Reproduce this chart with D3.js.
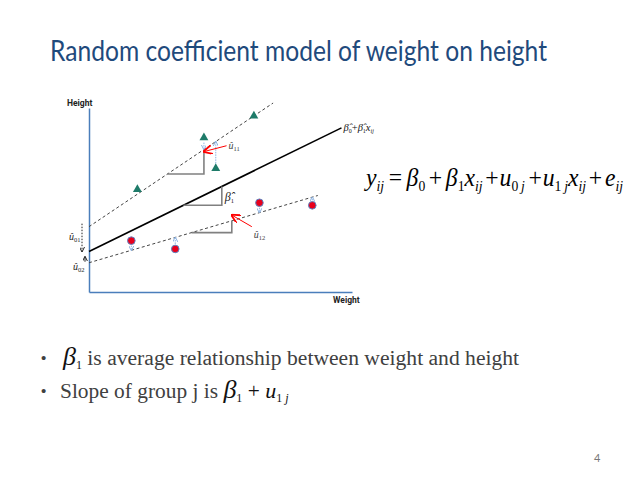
<!DOCTYPE html>
<html>
<head>
<meta charset="utf-8">
<script src="https://cdn.jsdelivr.net/npm/d3@7"></script>
<style>
  body { margin: 0; background: #fff; }
  svg { display: block; }
</style>
</head>
<body>
<svg></svg>
<script>
const titleText = 'Random coefficient model of weight on height';
const yLabel = 'Height';
const xLabel = 'Weight';

// average line and the two group deviations
const beta0 = 22;
const beta1 = 0.7;
const u0 = [13.5, -6.1];
const u1 = [0.26, -0.28];
const groupLineEnd = [70, 87];
const avgLineEnd = 96;

// observations
const group1Weight = [18.4, 43.7, 48.2, 62.7];
const group1Height = [55.8, 83.9, 67.2, 95.7];
const group2Weight = [16.1, 32.8, 64.8, 84.9];
const group2Height = [27.9, 23.4, 48.5, 47.1];

// slope "steps": group 1, average, group 2
const stepLine = [0, 'avg', 1];
const stepStart = [29.8, 35.9, 39];
const stepEnd = [43.7, 50.5, 54.3];

// red callouts for u11, u12 (weight, height)
const calloutFrom = [[52.3, 79.5], [61.9, 35.5]];
const calloutTo = [[43.7, 76.3], [54.3, 41.8]];
const calloutLabel = ['11', '12'];

const bullet1 = 'is average relationship between weight and height';
const bullet2 = 'Slope of group j is';
const pageNumber = '4';

let width = 638;
let height = 478;

let svg = d3.select('svg').attr('width', width).attr('height', height);

const x = d3.scaleLinear().domain([0, 100]).range([89, 352]);
const y = d3.scaleLinear().domain([0, 100]).range([292, 108]);

const lineAt = (g, w) => g === 'avg'
    ? beta0 + beta1 * w
    : beta0 + u0[g] + (beta1 + u1[g]) * w;

const serif = '"Liberation Serif", "Times New Roman", serif';

// write a run of text pieces: [string, italic, sub, size, colour, dx]
const mathText = (sel, parts, mainSize, subSize, shift) => {
    let down = 0;
    parts.forEach(p => {
        const sub = p[2];
        const target = sub ? shift : 0;
        const ts = sel.append('tspan')
            .attr('dy', target - down)
            .attr('font-size', p[3] || (sub ? subSize : mainSize))
            .attr('font-style', p[1] ? 'italic' : 'normal')
            .text(p[0]);
        if (p[4]) ts.attr('fill', p[4]);
        if (p[5]) ts.attr('dx', p[5]);
        down = target;
    });
    return sel;
};

// markers
const defs = svg.append('defs');
const marker = (id, color, size) => {
    defs.append('marker')
        .attr('id', id)
        .attr('viewBox', '0 -5 10 10')
        .attr('refX', 9).attr('refY', 0)
        .attr('markerWidth', size).attr('markerHeight', size)
        .attr('markerUnits', 'userSpaceOnUse')
        .attr('orient', 'auto')
        .append('path')
        .attr('d', 'M0,-5L10,0L0,5')
        .attr('fill', 'none')
        .attr('stroke', color)
        .attr('stroke-width', 2);
};
marker('blueHead', '#8db3e2', 5);
marker('redHead', '#ff0000', 9);
marker('blackHead', '#222', 5);

// title
svg.append('text')
    .attr('x', 50).attr('y', 61)
    .attr('font-family', 'Lato, "Open Sans", sans-serif')
    .attr('font-size', 28)
    .attr('fill', '#1f4a7c')
    .attr('textLength', 497)
    .attr('lengthAdjust', 'spacingAndGlyphs')
    .text(titleText);

// axes
const xAxis = svg.append('g')
    .attr('transform', 'translate(0,' + y(0) + ')')
    .call(d3.axisBottom(x).tickValues([]).tickSizeOuter(0));
const yAxis = svg.append('g')
    .attr('transform', 'translate(' + x(0) + ',0)')
    .call(d3.axisLeft(y).tickValues([]).tickSizeOuter(0));
[xAxis, yAxis].forEach(a => a.select('.domain')
    .attr('stroke', '#4a7ebb').attr('stroke-width', 1.5));

svg.append('text')
    .attr('x', 67).attr('y', 106)
    .attr('font-family', 'Roboto, "Liberation Sans", sans-serif')
    .attr('font-weight', 'bold').attr('font-size', 8.5)
    .attr('fill', '#222')
    .text(yLabel);
svg.append('text')
    .attr('x', 333).attr('y', 303)
    .attr('font-family', 'Roboto, "Liberation Sans", sans-serif')
    .attr('font-weight', 'bold').attr('font-size', 8.5)
    .attr('fill', '#222')
    .text(xLabel);

// group lines (dashed)
[0, 1].forEach(g => {
    svg.append('line')
        .attr('x1', x(0)).attr('y1', y(lineAt(g, 0)))
        .attr('x2', x(groupLineEnd[g])).attr('y2', y(lineAt(g, groupLineEnd[g])))
        .attr('stroke', '#444')
        .attr('stroke-width', 1)
        .attr('stroke-dasharray', '3,2.5');
});

// average line
svg.append('line')
    .attr('x1', x(0)).attr('y1', y(lineAt('avg', 0)))
    .attr('x2', x(avgLineEnd)).attr('y2', y(lineAt('avg', avgLineEnd)))
    .attr('stroke', '#000')
    .attr('stroke-width', 1.6);

// slope steps
stepLine.forEach((g, i) => {
    const xa = x(stepStart[i]);
    const xb = x(stepEnd[i]);
    const ya = y(lineAt(g, stepStart[i]));
    const yb = y(lineAt(g, stepEnd[i]));
    svg.append('path')
        .attr('d', 'M' + xa + ',' + ya + 'H' + xb + 'V' + yb)
        .attr('fill', 'none')
        .attr('stroke', '#808080')
        .attr('stroke-width', 1.6);
});

// residual arrows
const residuals = [];
group1Weight.forEach((w, i) => residuals.push({ g: 0, w: w, h: group1Height[i] }));
group2Weight.forEach((w, i) => residuals.push({ g: 1, w: w, h: group2Height[i] }));

residuals.forEach(d => {
    const y0 = y(d.h);
    const y1 = y(lineAt(d.g, d.w));
    if (Math.abs(y1 - y0) < 7) return;
    const dir = y1 > y0 ? 1 : -1;
    svg.append('line')
        .attr('x1', x(d.w)).attr('y1', y0 + dir * 5)
        .attr('x2', x(d.w)).attr('y2', y1)
        .attr('stroke', '#8db3e2')
        .attr('stroke-width', 1)
        .attr('stroke-dasharray', '1.5,1')
        .attr('marker-end', 'url(#blueHead)');
});

// group 1 triangles
svg.selectAll('.tri')
    .data(group1Weight)
    .enter()
    .append('path')
    .attr('class', 'tri')
    .attr('d', d3.symbol(d3.symbolTriangle, 34))
    .attr('transform', (w, i) => 'translate(' + x(w) + ',' + y(group1Height[i]) + ')')
    .attr('fill', '#1e7b69');

// group 2 circles
svg.selectAll('.dot')
    .data(group2Weight)
    .enter()
    .append('circle')
    .attr('class', 'dot')
    .attr('cx', w => x(w))
    .attr('cy', (w, i) => y(group2Height[i]))
    .attr('r', 3.8)
    .attr('fill', '#e8001c')
    .attr('stroke', '#5b84c4')
    .attr('stroke-width', 1);

// red callouts
calloutFrom.forEach((f, i) => {
    svg.append('line')
        .attr('x1', x(f[0])).attr('y1', y(f[1]))
        .attr('x2', x(calloutTo[i][0])).attr('y2', y(calloutTo[i][1]))
        .attr('stroke', '#ff0000')
        .attr('stroke-width', 1)
        .attr('marker-end', 'url(#redHead)');
    const t = svg.append('text')
        .attr('x', x(f[0]) + 2).attr('y', y(f[1]) + (i === 0 ? 3 : 11))
        .attr('font-family', serif).attr('fill', '#444');
    mathText(t, [['û', true, false], [calloutLabel[i], false, true]], 10, 6.5, 2);
});

// beta1 label by average step
const b1 = svg.append('text')
    .attr('x', x(stepEnd[1]) + 3).attr('y', y(lineAt('avg', stepEnd[1])) + 15)
    .attr('font-family', serif).attr('fill', '#222');
mathText(b1, [['β̂', true, false], ['1', false, true]], 12, 6.5, 2);

// label at end of average line
const endLab = svg.append('text')
    .attr('x', x(avgLineEnd) + 2).attr('y', y(lineAt('avg', avgLineEnd)) + 3)
    .attr('font-family', serif).attr('fill', '#111');
mathText(endLab, [
    ['β̂', true, false], ['0', false, true], ['+', false, false],
    ['β̂', true, false], ['1', false, true], ['x', true, false], ['ij', true, true]
], 10.5, 6, 2);

// intercept deviations at left
svg.append('line')
    .attr('x1', 82).attr('y1', y(lineAt(0, 0)) - 3)
    .attr('x2', 82).attr('y2', y(lineAt('avg', 0)))
    .attr('stroke', '#222').attr('stroke-width', 1)
    .attr('stroke-dasharray', '1.5,1.5')
    .attr('marker-end', 'url(#blackHead)');
svg.append('line')
    .attr('x1', 85).attr('y1', y(lineAt(1, 0)) - 1)
    .attr('x2', 85).attr('y2', y(lineAt(1, 0)) - 6)
    .attr('stroke', '#222').attr('stroke-width', 1)
    .attr('marker-end', 'url(#blackHead)');
const u01 = svg.append('text')
    .attr('x', 69).attr('y', 240)
    .attr('font-family', serif).attr('fill', '#222');
mathText(u01, [['û', true, false], ['01', false, true]], 10, 6.5, 2);
const u02 = svg.append('text')
    .attr('x', 73).attr('y', 270)
    .attr('font-family', serif).attr('fill', '#222');
mathText(u02, [['û', true, false], ['02', false, true]], 10, 6.5, 2);

// model formula, fitted to its box in the reference
const formula = svg.append('text')
    .attr('x', 366).attr('y', 186)
    .attr('font-family', serif).attr('fill', '#000');
mathText(formula, [
    ['y', true, false], ['ij', true, true], ['=', false, false, null, null, 5],
    ['β', true, false, null, null, 5], ['0', false, true], ['+', false, false, null, null, 4],
    ['β', true, false, null, null, 4], ['1', false, true], ['x', true, false], ['ij', true, true],
    ['+', false, false, null, null, 3], ['u', true, false, null, null, 1], ['0', false, true], ['j', true, true, null, null, 3],
    ['+', false, false, null, null, 4], ['u', true, false, null, null, 1], ['1', false, true], ['j', true, true, null, null, 3],
    ['x', true, false], ['ij', true, true],
    ['+', false, false, null, null, 3], ['e', true, false, null, null, 3], ['ij', true, true]
], 26, 15, 5);
formula.attr('textLength', 257).attr('lengthAdjust', 'spacingAndGlyphs');

// bullets
const bulletColor = '#404040';
[365, 398].forEach(by => {
    svg.append('text')
        .attr('x', 41).attr('y', by - 2)
        .attr('font-family', '"Liberation Sans", sans-serif')
        .attr('font-size', 15).attr('fill', bulletColor)
        .text('•');
});

const line1 = svg.append('text').attr('x', 63).attr('y', 365)
    .attr('font-family', serif).attr('fill', bulletColor);
mathText(line1, [
    ['β', true, false, 26, '#111'], ['1', false, true, 12, '#111'],
    ['  ' + bullet1, false, false, 21.6]
], 21.6, 12, 4);

const line2 = svg.append('text').attr('x', 60).attr('y', 398)
    .attr('font-family', serif).attr('fill', bulletColor);
mathText(line2, [
    [bullet2 + ' ', false, false, 21.4], ['β', true, false, 26, '#111'], ['1', false, true, 12, '#111'],
    [' + ', false, false, 21.4, '#111'], ['u', true, false, 22, '#111'],
    ['1', false, true, 12, '#111'], [' j', true, true, 12, '#111']
], 21.4, 12, 4);

// page number
svg.append('text')
    .attr('x', 594).attr('y', 462)
    .attr('font-family', 'Lato, sans-serif').attr('font-size', 11)
    .attr('fill', '#777')
    .text(pageNumber);
</script>
</body>
</html>
